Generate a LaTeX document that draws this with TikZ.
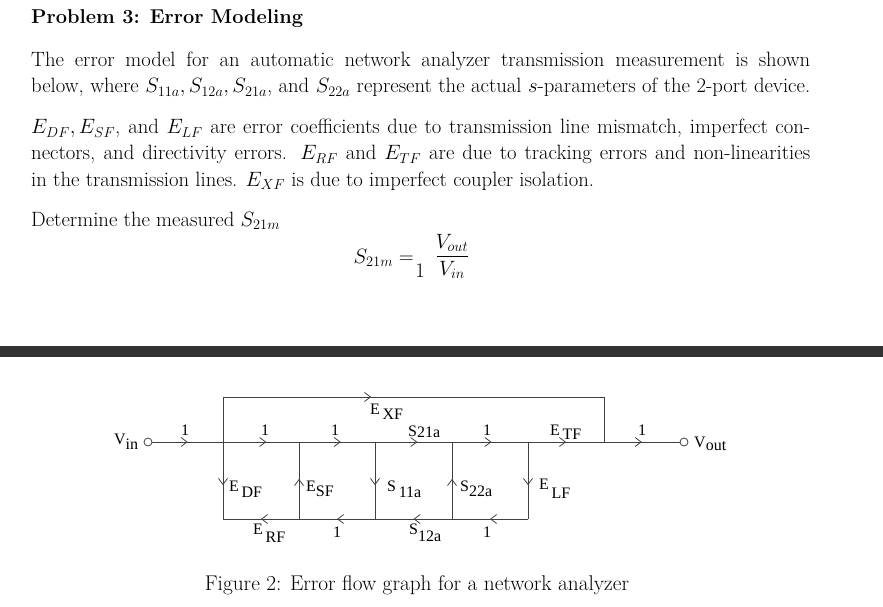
\documentclass[tikz,border=0pt]{standalone}
\usepackage{fontspec}
\newfontfamily\tms{Liberation Serif}
\usetikzlibrary{decorations.markings,arrows.meta}
\begin{document}
\begin{tikzpicture}[x=1pt,y=-1pt,
  txt/.style={anchor=base west,inner sep=0pt,font=\fontsize{20.7}{26}\selectfont},
  wire/.style={draw=black!75,line width=0.9pt},
  mid/.style={postaction={decorate},decoration={markings,mark=at position #1 with {\arrow[black!75,line width=0.8pt]{Straight Barb[length=6pt,width=9pt]}}}},
  lab/.style={inner sep=0pt,font=\tms\fontsize{16}{16}\selectfont},
  port/.style={circle,draw=black!75,line width=0.8pt,inner sep=0pt,minimum size=8pt}]
\useasboundingbox (0,0) rectangle (883,607);
% text
\node[txt,font=\fontsize{20}{26}\selectfont\bfseries] (title) at (31,24) {Problem 3: Error Modeling};
\node[txt] (p1) at (31,67) {\hbox to 779pt{The error model for an automatic network analyzer transmission measurement is shown}};
\node[txt] (p2) at (31,93) {\hbox to 779pt{below, where $S_{11a}, S_{12a}, S_{21a}$, and $S_{22a}$ represent the actual $s$-parameters of the 2-port device.}};
\node[txt] (p3) at (31,134) {\hbox to 779pt{$E_{DF}, E_{SF}$, and $E_{LF}$ are error coefficients due to transmission line mismatch, imperfect con-}};
\node[txt] (p4) at (31,160) {\hbox to 779pt{nectors, and directivity errors. $E_{RF}$ and $E_{TF}$ are due to tracking errors and non-linearities}};
\node[txt] (p5) at (31,186) {in the transmission lines. $E_{XF}$ is due to imperfect coupler isolation.};
\node[txt] (p6) at (31,226) {Determine the measured $S_{21m}$};
\node[txt,anchor=base east] (eq) at (414,263) {$S_{21m}=$};
\node[txt,anchor=center] (num) at (452,243) {$V_{out}$};
\node[txt,anchor=center] (den) at (452,270) {$V_{in}$};
\node[txt,anchor=center] (one) at (420,271) {1};
\draw[line width=0.7pt] (437,256) -- (468,256);
\fill[black!80] (0,346) rectangle (883,357);
% diagram coordinates
\foreach \n/\x in {a/223,b/299,c/375,d/452,e/528,f/604}{
  \coordinate (\n) at (\x,442);}
\foreach \n/\x in {a/223,b/299,c/375,d/452,e/528}{
  \coordinate (\n') at (\x,519);}
\coordinate (ta) at (223,397);
\coordinate (tf) at (604,397);
\node[port] (vin) at (148,442) {};
\node[port] (vout) at (684,442) {};
% forward path
\path[wire,mid=0.5] (vin) -- (a);
\path[wire,mid=0.57] (a) -- (b);
\path[wire,mid=0.55] (b) -- (c);
\path[wire,mid=0.55] (c) -- (d);
\path[wire,mid=0.52] (d) -- (e);
\path[wire,mid=0.5] (e) -- (f);
\path[wire,mid=0.5] (f) -- (vout);
\path[wire,mid=0.41] (a) -- (ta) -- (tf) -- (f);
% verticals
\path[wire,mid=0.56] (a) -- (a');
\path[wire,mid=0.52] (b') -- (b);
\path[wire,mid=0.56] (c) -- (c');
\path[wire,mid=0.52] (d') -- (d);
\path[wire,mid=0.56] (e) -- (e');
% return path
\path[wire,mid=0.5] (b') -- (a');
\path[wire,mid=0.5] (c') -- (b');
\path[wire,mid=0.5] (d') -- (c');
\path[wire,mid=0.5] (e') -- (d');
% labels
\node[lab] (lvin) at (126,442) {V\raisebox{-5pt}{in}};
\node[lab,anchor=west] (lvout) at (694,444) {V\raisebox{-3pt}{out}};
\foreach \x in {185,265,335,487,642}{\node[lab] at (\x,430) {1};}
\node[lab,anchor=west] (lxf) at (370,412) {E\,\raisebox{-5pt}{XF}};
\node[lab,anchor=west] (l21) at (408,432) {S\raisebox{-1pt}{21a}};
\node[lab,anchor=west] (ltf) at (550,432) {E\,\raisebox{-4pt}{TF}};
\node[lab,anchor=west] (ldf) at (229,489) {E\,\raisebox{-6pt}{DF}};
\node[lab,anchor=west] (lsf) at (306,489) {E\raisebox{-5pt}{SF}};
\node[lab,anchor=west] (l11) at (387,489) {S\,\raisebox{-6pt}{11a}};
\node[lab,anchor=west] (l22) at (460,489) {S\raisebox{-5pt}{22a}};
\node[lab,anchor=west] (llf) at (539,489) {E\,\raisebox{-9pt}{LF}};
\node[lab,anchor=west] (lrf) at (253,533) {E\,\raisebox{-8pt}{RF}};
\node[lab] (l1b) at (337,532) {1};
\node[lab,anchor=west] (l12) at (409,533) {S\raisebox{-7pt}{12a}};
\node[lab] (l1c) at (487,532) {1};
\node[txt,anchor=base,font=\fontsize{21.3}{26}\selectfont] (cap) at (417,590) {Figure 2: Error flow graph for a network analyzer};
\end{tikzpicture}
\end{document}
